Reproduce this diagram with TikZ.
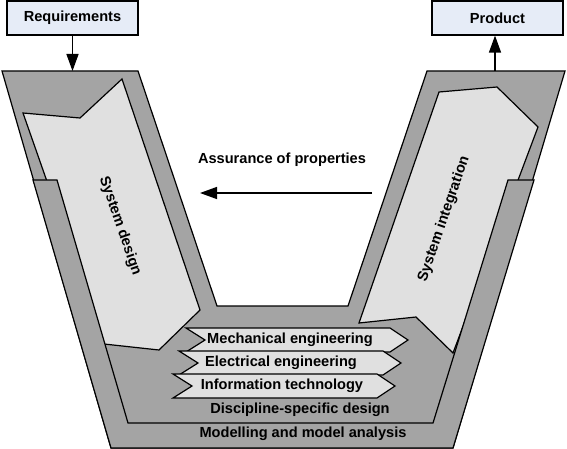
\documentclass[tikz,border=0pt]{standalone}
\usepackage{fontspec}
\setmainfont{Liberation Sans}
\usetikzlibrary{arrows.meta}
\definecolor{vgray}{RGB}{164,164,164}
\definecolor{vlight}{RGB}{224,224,224}
\definecolor{boxblue}{RGB}{230,236,247}

\begin{document}
\begin{tikzpicture}[x=1pt,y=-1pt,
        band/.style={fill=vgray,draw=black,line width=1.2pt},
        panel/.style={fill=vlight,draw=black,line width=1.2pt},
        lbl/.style={font=\fontsize{14.6}{17}\selectfont\bfseries,inner sep=0pt},
        box/.style={lbl,draw=black,line width=1.2pt,fill=boxblue,
            minimum width=131pt,minimum height=34pt},
        arr/.style={line width=1.4pt,-{Triangle[length=17pt,width=12pt]}}]
                \useasboundingbox (0,0) rectangle (567,449);

                % Outer V
                \draw[band] (2,71) -- (138,71) -- (217,306) -- (348,306)
                    -- (427,71) -- (565,71) -- (453,448) -- (111,448) -- cycle;

                % Left and right phases
                \draw[panel] (23,113) -- (80,118) -- (122,79) -- (200,310)
                    -- (159,350) -- (104,344) -- cycle;
                \draw[panel] (439,92) -- (497,87) -- (538,127) -- (453,353)
                    -- (416,317) -- (359,323) -- cycle;

                % Modelling band
                \draw[band] (33,180) -- (57,180) -- (128,423) -- (433,423)
                    -- (508,180) -- (534,180) -- (453,448) -- (111,448) -- cycle;

                % Disciplines
                \draw[panel] (186,328) -- (390,328) -- (408,340) -- (390,352)
                    -- (186,352) -- (205,340) -- cycle;
                \draw[panel] (179,351) -- (383,351) -- (401,363) -- (383,375)
                    -- (179,375) -- (198,363) -- cycle;
                \draw[panel] (173,374) -- (377,374) -- (395,386) -- (377,398)
                    -- (173,398) -- (192,386) -- cycle;

                % Labels
                \node[lbl] (mech) at (290,340) {Mechanical engineering};
                \node[lbl] (elec) at (281,363) {Electrical engineering};
                \node[lbl] (info) at (282,386) {Information technology};
                \node[lbl] (disc) at (300,410) {Discipline-specific design};
                \node[lbl] (model) at (303,434) {Modelling and model analysis};
                \node[lbl,rotate=-71] (sysd) at (120,226) {System design};
                \node[lbl,rotate=71] (sysi) at (444,219) {System integration};

                % Assurance arrow
                \node[lbl] (assur) at (282,160) {Assurance of properties};
                \coordinate (asr) at (372,193);
                \coordinate (asl) at (200,193);
                \draw[arr] (asr) -- (asl);

                % Input and output
                \node[box] (req) at (72.5,18) {Requirements};
                \node[box] (prod) at (497.5,18) {Product};
                \coordinate (vin) at (72.5,71);
                \coordinate (vout) at (495,71);
                \draw[arr] (req) -- (vin);
                \draw[arr] (vout) -- (vout |- prod.south);
            \end{tikzpicture}
\end{document}
